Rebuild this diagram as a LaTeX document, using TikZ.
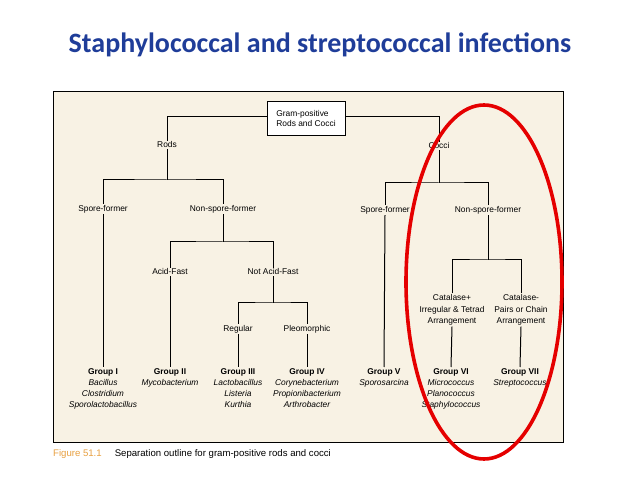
\documentclass[tikz,border=0pt]{standalone}
\usepackage{fontspec}
\setmainfont{Liberation Sans}
\newfontfamily\titlefont{Carlito}
\definecolor{bg}{HTML}{F8F2E4}
\definecolor{ttl}{HTML}{1F3D99}
\definecolor{fig}{HTML}{E8A040}
\begin{document}
\begin{tikzpicture}[x=1pt,y=-1pt,
  lbl/.style={font=\fontsize{8.4}{11.5}\selectfont,inner sep=1pt,fill=bg,align=center},
  grp/.style={font=\fontsize{8.4}{11}\selectfont,inner sep=1pt,align=center,anchor=north},
  ln/.style={line width=1pt}]
\useasboundingbox (0,0) rectangle (638,478);
\fill[white] (0,0) rectangle (638,478);
\node[font=\titlefont\bfseries\fontsize{28}{32}\selectfont,text=ttl] (title) at (320,45) {Staphylococcal and streptococcal infections};
\draw[fill=bg,line width=0.9pt] (53,91) rectangle (563,442);
% root
\node[draw,fill=white,line width=1pt,minimum width=78pt,minimum height=34pt,align=left,font=\fontsize{8.4}{10}\selectfont] (root) at (306,119) {Gram-positive\\Rods and Cocci};
\node[lbl] (rods) at (167,145) {Rods};
\node[lbl] (cocci) at (439,146) {Cocci};
\draw[ln] (root.west |- 0,117) -| (rods.north);
\draw[ln] (root.east |- 0,117) -| (cocci.north);
% rods branch
\coordinate (rj) at (167,180);
\node[lbl] (sf1) at (103,209) {Spore-former};
\node[lbl] (nsf1) at (223,209) {Non-spore-former};
\draw[ln] (rods.south) -- (rj);
\draw[ln] (sf1.north) |- (rj) -| (nsf1.north);
\coordinate (nj) at (223,242);
\node[lbl] (af) at (170,272) {Acid-Fast};
\node[lbl] (naf) at (273,272) {Not Acid-Fast};
\draw[ln] (nsf1.south) -- (nj);
\draw[ln] (af.north) |- (nj) -| (naf.north);
\coordinate (aj) at (273,303);
\node[lbl] (reg) at (238,329) {Regular};
\node[lbl] (pleo) at (307,329) {Pleomorphic};
\draw[ln] (naf.south) -- (aj);
\draw[ln] (reg.north) |- (aj) -| (pleo.north);
% cocci branch
\coordinate (cj) at (439,183);
\node[lbl] (sf2) at (385,210) {Spore-former};
\node[lbl] (nsf2) at (488,210) {Non-spore-former};
\draw[ln] (cocci.south) -- (cj);
\draw[ln] (sf2.north) |- (cj) -| (nsf2.north);
\coordinate (kj) at (488,260);
\node[lbl] (catp) at (452,310) {Catalase+\\Irregular \& Tetrad\\Arrangement};
\node[lbl] (catm) at (521,310) {Catalase-\\Pairs or Chain\\Arrangement};
\draw[ln] (nsf2.south) -- (kj);
\draw[ln] (catp.north) |- (kj) -| (catm.north);
% groups
\node[grp] (g1) at (103,367) {\textbf{Group I}\\\itshape Bacillus\\\itshape Clostridium\\\itshape Sporolactobacillus};
\node[grp] (g2) at (170,367) {\textbf{Group II}\\\itshape Mycobacterium};
\node[grp] (g3) at (238,367) {\textbf{Group III}\\\itshape Lactobacillus\\\itshape Listeria\\\itshape Kurthia};
\node[grp] (g4) at (307,367) {\textbf{Group IV}\\\itshape Corynebacterium\\\itshape Propionibacterium\\\itshape Arthrobacter};
\node[grp] (g5) at (384,367) {\textbf{Group V}\\\itshape Sporosarcina};
\node[grp] (g6) at (451,367) {\textbf{Group VI}\\\itshape Micrococcus\\\itshape Planococcus\\\itshape Staphylococcus};
\node[grp] (g7) at (520,367) {\textbf{Group VII}\\\itshape Streptococcus};
\draw[ln] (sf1.south) -- (g1.north);
\draw[ln] (af.south) -- (g2.north);
\draw[ln] (reg.south) -- (g3.north);
\draw[ln] (pleo.south) -- (g4.north);
\draw[ln] (sf2.south) -- (g5.north);
\draw[ln] (catp.south) -- (g6.north);
\draw[ln] (catm.south) -- (g7.north);
% caption
\node[anchor=west,font=\fontsize{9.6}{11}\selectfont,inner sep=0pt] (cap) at (53,454) {\textcolor{fig}{Figure 51.1}\hspace{13pt}Separation outline for gram-positive rods and cocci};
% red ellipse
\draw[red!90!black,line width=3.6pt] (484,282) ellipse [x radius=78, y radius=177];
\end{tikzpicture}
\end{document}
